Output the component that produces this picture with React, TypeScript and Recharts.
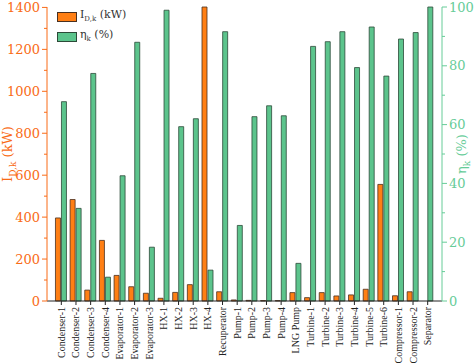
import React from "react";
import { BarChart, Bar, XAxis, YAxis } from "recharts";

const categories = [
  "Condenser-1", "Condenser-2", "Condenser-3", "Condenser-4",
  "Evaporator-1", "Evaporator-2", "Evaporator-3",
  "HX-1", "HX-2", "HX-3", "HX-4", "Recuperator",
  "Pump-1", "Pump-2", "Pump-3", "Pump-4", "LNG Pump",
  "Turbine-1", "Turbine-2", "Turbine-3", "Turbine-4", "Turbine-5", "Turbine-6",
  "Compressor-1", "Compressor-2", "Separator",
];
const destruction = [
  396, 484, 52, 289, 122, 68, 37, 13, 41, 78, 1402, 44,
  5, 3, 2, 2, 40, 16, 40, 24, 29, 56, 556, 25, 44, 0,
];
const efficiency = [
  67.8, 31.5, 77.4, 8.1, 42.6, 88.0, 18.3, 98.9, 59.3, 62.0, 10.5, 91.6,
  25.7, 62.7, 66.4, 63.0, 12.8, 86.6, 88.2, 91.6, 79.4, 93.2, 76.5, 89.1, 91.3, 100,
];
const leftTicks = [0, 100, 200, 300, 400, 500, 600, 700, 800, 900, 1000, 1100, 1200, 1300, 1400];
const rightTicks = [0, 10, 20, 30, 40, 50, 60, 70, 80, 90, 100];

const ORANGE = "#ff7f14";
const ORANGE_AXIS = "#f96b16";
const GREEN = "#5cc48c";
const GREEN_AXIS = "#66cc98";
const SERIF = "'DejaVu Serif', serif";

const data = categories.map((name, i) => ({
  name,
  id: destruction[i],
  eta: efficiency[i],
}));

const LeftTick = ({ x, y, payload }: any) => {
  const major = payload.value % 200 === 0;
  return (
    <g>
      <line x1={x - (major ? 5 : 3)} x2={x} y1={y} y2={y} stroke={ORANGE_AXIS} strokeWidth={1} />
      {major && (
        <text x={x - 7} y={y} dy="0.35em" textAnchor="end" fill={ORANGE_AXIS} fontSize={13} fontFamily={SERIF}>
          {payload.value}
        </text>
      )}
    </g>
  );
};

const RightTick = ({ x, y, payload }: any) => {
  const major = payload.value % 20 === 0;
  return (
    <g>
      <line x1={x} x2={x + (major ? 5 : 3)} y1={y} y2={y} stroke={GREEN_AXIS} strokeWidth={1} />
      {major && (
        <text x={x + 7} y={y} dy="0.35em" textAnchor="start" fill={GREEN_AXIS} fontSize={13} fontFamily={SERIF}>
          {payload.value}
        </text>
      )}
    </g>
  );
};

const CategoryTick = ({ x, y, payload }: any) => (
  <text
    x={x}
    y={y}
    dy="0.35em"
    textAnchor="end"
    transform={`rotate(-90, ${x}, ${y})`}
    fill="#222"
    fontSize={10}
    fontFamily="'Liberation Serif', serif"
  >
    {payload.value}
  </text>
);

export default function App() {
  return (
    <div style={{ position: "absolute", left: 0, top: 0, width: 474, height: 364, background: "#fff" }}>
      <BarChart
        width={474}
        height={364}
        data={data}
        margin={{ top: 7, right: 0, bottom: 0, left: 0 }}
        barCategoryGap="10%"
        barGap={1}
      >
        <XAxis
          dataKey="name"
          interval={0}
          padding={{ left: 7, right: 7 }}
          stroke="#222"
          tickSize={4}
          tickMargin={2}
          height={63}
          tick={<CategoryTick />}
        />
        <YAxis
          yAxisId="left"
          orientation="left"
          width={47}
          domain={[0, 1400]}
          ticks={leftTicks}
          interval={0}
          stroke={ORANGE_AXIS}
          tickSize={0}
          tickMargin={0}
          tick={<LeftTick />}
        />
        <YAxis
          yAxisId="right"
          orientation="right"
          width={32}
          domain={[0, 100]}
          ticks={rightTicks}
          interval={0}
          stroke={GREEN_AXIS}
          tickSize={0}
          tickMargin={0}
          tick={<RightTick />}
        />
        <Bar yAxisId="left" dataKey="id" fill={ORANGE} stroke="#4a3020" strokeWidth={0.8} isAnimationActive={false} />
        <Bar yAxisId="right" dataKey="eta" fill={GREEN} stroke="#2c4a38" strokeWidth={0.8} isAnimationActive={false} />
      </BarChart>

      {/* legend */}
      <div style={{ position: "absolute", left: 57, top: 7, fontFamily: SERIF, fontSize: 11, color: "#333", lineHeight: "15px" }}>
        <div style={{ display: "flex", alignItems: "center", gap: 3 }}>
          <span style={{ width: 18, height: 8, background: ORANGE, border: "1px solid #4a3020", display: "inline-block" }} />
          <span>I<sub style={{ fontSize: 7 }}>D,k</sub> (kW)</span>
        </div>
        <div style={{ display: "flex", alignItems: "center", gap: 3 }}>
          <span style={{ width: 18, height: 8, background: GREEN, border: "1px solid #2c4a38", display: "inline-block" }} />
          <span>η<sub style={{ fontSize: 7 }}>k</sub> (%)</span>
        </div>
      </div>

      {/* axis titles */}
      <div
        style={{
          position: "absolute", left: 9, top: 154, transform: "translate(-50%, -50%) rotate(-90deg)",
          whiteSpace: "nowrap", fontFamily: SERIF, fontSize: 13, color: ORANGE_AXIS,
        }}
      >
        I<sub style={{ fontSize: 9 }}>D,k</sub> (kW)
      </div>
      <div
        style={{
          position: "absolute", left: 463, top: 154, transform: "translate(-50%, -50%) rotate(-90deg)",
          whiteSpace: "nowrap", fontFamily: SERIF, fontSize: 13, color: GREEN_AXIS,
        }}
      >
        η<sub style={{ fontSize: 9 }}>k</sub> (%)
      </div>
    </div>
  );
}
